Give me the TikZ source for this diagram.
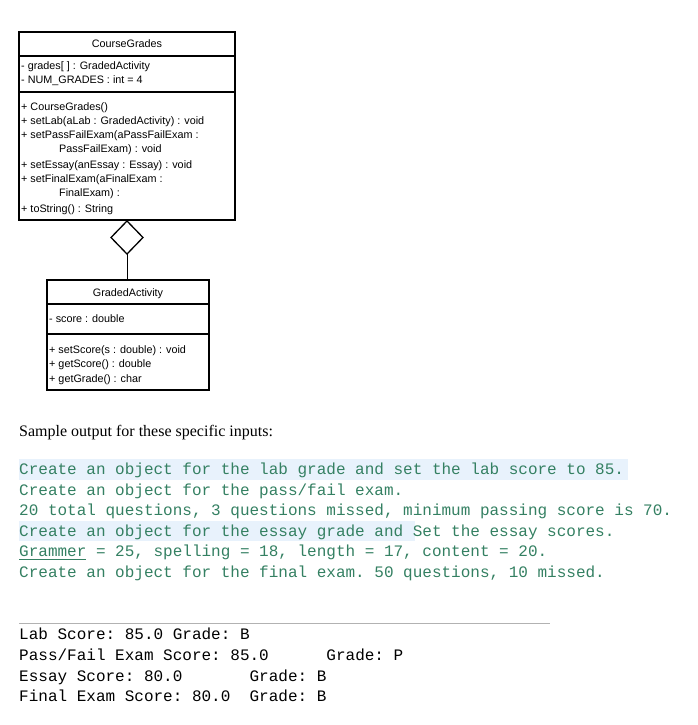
\documentclass[tikz,border=0pt]{standalone}
\usepackage{fontspec}
\setmainfont{Liberation Serif}
\setsansfont{Liberation Sans}
\setmonofont{Liberation Mono}
\definecolor{codegreen}{RGB}{52,128,98}
\definecolor{hl}{RGB}{232,242,252}
\begin{document}
\begin{tikzpicture}[x=1pt,y=-1pt,
  uml/.style={anchor=base west,inner sep=0,font=\sffamily\fontsize{10.8}{12}\selectfont},
  umlc/.style={anchor=base,inner sep=0,font=\sffamily\fontsize{10.8}{12}\selectfont},
  code/.style={anchor=base west,inner sep=0,font=\ttfamily\fontsize{16}{18}\selectfont,text=codegreen},
  outtext/.style={anchor=base west,inner sep=0,font=\ttfamily\fontsize{16}{18}\selectfont,text=black},
  box/.style={draw,line width=1.3pt}]
\useasboundingbox (0,0) rectangle (698,725);
% CourseGrades
\draw[box] (19,32) rectangle (235,220);
\draw[line width=1.1pt] (19,56) -- (235,56) (19,92) -- (235,92);
\node[umlc] (cg) at (127,48) {CourseGrades};
\node[uml] at (21,70) {- grades[ ] : GradedActivity};
\node[uml] at (21,83) {- NUM\_GRADES : int = 4};
\node[uml] at (21,110) {+ CourseGrades()};
\node[uml] at (21,124) {+ setLab(aLab : GradedActivity) : void};
\node[uml] at (21,138) {+ setPassFailExam(aPassFailExam :};
\node[uml] at (59,152) {PassFailExam) : void};
\node[uml] at (21,168) {+ setEssay(anEssay : Essay) : void};
\node[uml] at (21,182) {+ setFinalExam(aFinalExam :};
\node[uml] at (59,196) {FinalExam) :};
\node[uml] at (21,212) {+ toString() : String};
% aggregation
\coordinate (dtop) at (127,221);
\coordinate (dbot) at (127,254);
\draw[line width=1.3pt,fill=white] (dtop) -- (143,237.5) -- (dbot) -- (111,237.5) -- cycle;
\draw[line width=0.7pt] (dbot) -- (127,280);
% GradedActivity
\draw[box] (47,280) rectangle (209,390);
\draw[line width=1.1pt] (47,304) -- (209,304) (47,334) -- (209,334);
\node[umlc] (ga) at (128,296) {GradedActivity};
\node[uml] at (49,322) {- score : double};
\node[uml] at (49,353) {+ setScore(s : double) : void};
\node[uml] at (49,367) {+ getScore() : double};
\node[uml] at (49,382) {+ getGrade() : char};
% text
\node[anchor=base west,inner sep=0,font=\fontsize{16}{18}\selectfont] (samp) at (19,436) {Sample output for these specific inputs:};
\fill[hl] (19,459) rectangle (628,480);
\fill[hl] (19,521) rectangle (415,541);
\node[code] at (19,474) {Create an object for the lab grade and set the lab score to 85.};
\node[code] at (19,495) {Create an object for the pass/fail exam.};
\node[code] at (19,515) {20 total questions, 3 questions missed, minimum passing score is 70.};
\node[code] at (19,536) {Create an object for the essay grade and Set the essay scores.};
\node[code] at (19,556) {Grammer = 25, spelling = 18, length = 17, content = 20.};
\draw[codegreen,line width=1.2pt] (19,559.5) -- (86,559.5);
\node[code] at (19,577) {Create an object for the final exam. 50 questions, 10 missed.};
\draw[gray!60,line width=0.8pt] (19,623) -- (550,623);
\node[outtext] at (19,639) {Lab Score: 85.0 Grade: B};
\node[outtext] at (19,660) {Pass/Fail Exam Score: 85.0~~~~~~Grade: P};
\node[outtext] at (19,681) {Essay Score: 80.0~~~~~~~Grade: B};
\node[outtext] at (19,701) {Final Exam Score: 80.0~~Grade: B};
\end{tikzpicture}
\end{document}
